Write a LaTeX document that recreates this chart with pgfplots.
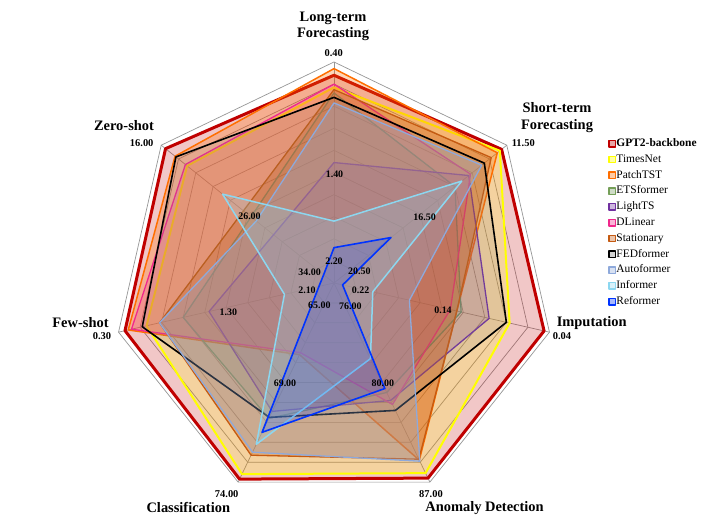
\documentclass[border=0pt]{standalone}
\usepackage{fontspec}
\setmainfont{Liberation Serif}
\usepackage{pgfplots}
\pgfplotsset{compat=1.18}
\definecolor{cGPT}{RGB}{192,0,0}
\definecolor{cTimes}{RGB}{255,255,0}
\definecolor{cPatch}{RGB}{255,110,0}
\definecolor{cETS}{RGB}{112,173,71}
\definecolor{cLight}{RGB}{112,48,160}
\definecolor{cDLin}{RGB}{240,40,140}
\definecolor{cStat}{RGB}{197,90,17}
\definecolor{cFED}{RGB}{0,0,0}
\definecolor{cAuto}{RGB}{142,169,219}
\definecolor{cInf}{RGB}{140,215,240}
\definecolor{cRef}{RGB}{0,51,255}
\definecolor{cGrid}{RGB}{150,150,150}
\begin{document}
\begin{tikzpicture}
\begin{axis}[
  x=221bp, y=221bp,
  xmin=-1.5113, xmax=1.7466, ymin=-1.0905, ymax=1.2805,
  hide axis, clip=false,
  legend cell align=left,
  legend style={at={(axis cs:1.2398,0.657)}, anchor=north west, draw=none, fill=none,
    font=\fontsize{11.5}{12}\selectfont, row sep=4.3bp, inner sep=0pt,
    nodes={inner sep=0.5bp, text height=8bp, text depth=2.5bp}},
  legend image code/.code={\draw[#1, line width=1.3bp, fill opacity=0.35] (0bp,-3.2bp) rectangle (6.4bp,3.2bp);},
  every axis plot/.append style={line join=round},
]
\coordinate (C) at (axis cs:0,0);
% grid rings
\pgfplotsinvokeforeach{0.1,0.2,0.3,0.4,0.5,0.6,0.7,0.8,0.9,1.0}{
  \addplot[forget plot, data cs=polar, draw=cGrid, line width=0.7bp] coordinates {(90,#1) (38.571,#1) (-12.857,#1) (-64.286,#1) (-115.714,#1) (-167.143,#1) (141.429,#1)} -- cycle;
}
% spokes
\pgfplotsinvokeforeach{90,38.571,-12.857,-64.286,-115.714,-167.143,141.429}{
  \addplot[forget plot, data cs=polar, draw=cGrid, line width=0.7bp] coordinates {(#1,0) (#1,1)};
}
% series: Long-term, Short-term, Imputation, Anomaly, Classification, Few-shot, Zero-shot (normalised radius)
\addplot[data cs=polar, draw=cGPT, line width=3bp, fill=cGPT, fill opacity=0.22] coordinates {(90,0.94) (38.571,0.97) (-12.857,0.975) (-64.286,0.98) (-115.714,0.985) (-167.143,0.97) (141.429,0.975)} -- cycle;
\addlegendentry{\textbf{GPT2-backbone}}
\addplot[data cs=polar, draw=cTimes, line width=2bp, fill=cTimes, fill opacity=0.2] coordinates {(90,0.885) (38.571,0.96) (-12.857,0.815) (-64.286,0.955) (-115.714,0.96) (-167.143,0.87) (141.429,0.85)} -- cycle;
\addlegendentry{TimesNet}
\addplot[data cs=polar, draw=cPatch, line width=1.5bp, fill=cPatch, fill opacity=0.28] coordinates {(90,0.97) (38.571,0.945) (-12.857,0.57) (-64.286,0.89) (-115.714,0.36) (-167.143,0.955) (141.429,0.92)} -- cycle;
\addlegendentry{PatchTST}
\addplot[data cs=polar, draw=cETS!70!gray, line width=1.3bp, fill=cETS!60!gray, fill opacity=0.18] coordinates {(90,0.86) (38.571,0.70) (-12.857,0.59) (-64.286,0.55) (-115.714,0.68) (-167.143,0.70) (141.429,0.48)} -- cycle;
\addlegendentry{ETSformer}
\addplot[data cs=polar, draw=cLight, line width=1.3bp, fill=cLight, fill opacity=0.2] coordinates {(90,0.545) (38.571,0.78) (-12.857,0.72) (-64.286,0.59) (-115.714,0.645) (-167.143,0.58) (141.429,0.35)} -- cycle;
\addlegendentry{LightTS}
\addplot[data cs=polar, draw=cDLin, line width=1.3bp, fill=cDLin, fill opacity=0.2] coordinates {(90,0.90) (38.571,0.79) (-12.857,0.54) (-64.286,0.61) (-115.714,0.35) (-167.143,0.94) (141.429,0.86)} -- cycle;
\addlegendentry{DLinear}
\addplot[data cs=polar, draw=cStat, line width=1.3bp, fill=cStat, fill opacity=0.33] coordinates {(90,0.875) (38.571,0.91) (-12.857,0.57) (-64.286,0.885) (-115.714,0.865) (-167.143,0.81) (141.429,0.524)} -- cycle;
\addlegendentry{Stationary}
\addplot[data cs=polar, draw=cFED, line width=1.6bp, fill=gray, fill opacity=0.15] coordinates {(90,0.84) (38.571,0.87) (-12.857,0.80) (-64.286,0.64) (-115.714,0.675) (-167.143,0.89) (141.429,0.915)} -- cycle;
\addlegendentry{FEDformer}
\addplot[data cs=polar, draw=cAuto, line width=1.3bp, fill=cAuto, fill opacity=0.3] coordinates {(90,0.815) (38.571,0.855) (-12.857,0.35) (-64.286,0.895) (-115.714,0.85) (-167.143,0.81) (141.429,0.45)} -- cycle;
\addlegendentry{Autoformer}
\addplot[data cs=polar, draw=cInf, line width=1.5bp, fill=cInf, fill opacity=0.22] coordinates {(90,0.28) (38.571,0.74) (-12.857,0.18) (-64.286,0.38) (-115.714,0.81) (-167.143,0.23) (141.429,0.645)} -- cycle;
\addlegendentry{Informer}
\addplot[data cs=polar, draw=cRef, line width=1.6bp, fill=cRef, fill opacity=0.18] coordinates {(90,0.16) (38.571,0.33) (-12.857,0.04) (-64.286,0.53) (-115.714,0.75) (-167.143,0.07) (141.429,0.06)} -- cycle;
\addlegendentry{Reformer}
\end{axis}
\begin{scope}[shift={(C)}, x=1bp, y=-1bp, shift={(-334,-283)},
  ttl/.style={anchor=base, font=\fontsize{14.5}{16}\selectfont\bfseries, inner sep=0pt},
  tk/.style={anchor=base, font=\fontsize{10.5}{12}\selectfont\bfseries, inner sep=0pt},
  ik/.style={anchor=base, font=\fontsize{10}{12}\selectfont\bfseries, inner sep=0pt}]
\node[ttl] at (333,21.5) {Long-term};
\node[ttl] at (333,37.5) {Forecasting};
\node[ttl] at (557,113) {Short-term};
\node[ttl] at (557,129.5) {Forecasting};
\node[ttl] at (591.7,326.3) {Imputation};
\node[ttl] at (484.5,511.3) {Anomaly Detection};
\node[ttl] at (188.3,512.5) {Classification};
\node[ttl] at (80.5,327.3) {Few-shot};
\node[ttl] at (124,131) {Zero-shot};
\node[tk] at (333.7,56.7) {0.40};
\node[tk] at (523.3,146.7) {11.50};
\node[tk] at (562,340) {0.04};
\node[tk] at (431,497.3) {87.00};
\node[tk] at (226.7,497.3) {74.00};
\node[tk] at (102,340) {0.30};
\node[tk] at (141.7,146.7) {16.00};
\node[ik] at (334.5,177.3) {1.40};
\node[ik] at (334,264.5) {2.20};
\node[ik] at (424.7,220.2) {16.50};
\node[ik] at (359.3,274.2) {20.50};
\node[ik] at (443,313.2) {0.14};
\node[ik] at (360.7,293.8) {0.22};
\node[ik] at (382.8,386.8) {80.00};
\node[ik] at (350.3,309.2) {76.00};
\node[ik] at (285,386.3) {69.00};
\node[ik] at (319.3,308.8) {65.00};
\node[ik] at (228.3,316) {1.30};
\node[ik] at (307,293.8) {2.10};
\node[ik] at (249.5,220) {26.00};
\node[ik] at (309.7,275.8) {34.00};
\pgfresetboundingbox
\path[use as bounding box] (0,0) rectangle (720,524);
\end{scope}
\end{tikzpicture}
\end{document}
